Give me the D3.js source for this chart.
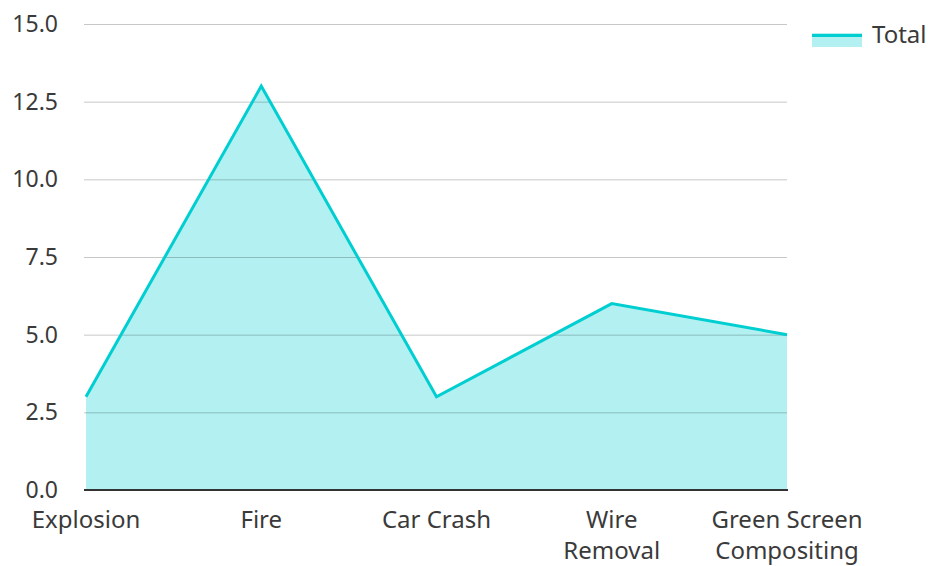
<!DOCTYPE html>
<html>
<head>
<meta charset="utf-8">
<script src="https://cdn.jsdelivr.net/npm/d3@7"></script>
<style>
  body { margin: 0; background: #fff; }
  text { font-family: "Noto Sans", "Open Sans", sans-serif; fill: #3a3a3a; }
</style>
</head>
<body>
<script>
var categories = ["Explosion", "Fire", "Car Crash", "Wire Removal", "Green Screen Compositing"];
var totals = [3, 13, 3, 6, 5];
var yTicks = [0, 2.5, 5, 7.5, 10, 12.5, 15];
var seriesName = "Total";

var margin = {top: 24, right: 141, bottom: 76, left: 86};
var svg = d3.select("body").append("svg")
    .attr("width", 928)
    .attr("height", 566);
var width = svg.attr("width") - margin.left - margin.right,
    height = svg.attr("height") - margin.top - margin.bottom,
    g = svg.append("g").attr("transform", "translate(" + margin.left + "," + margin.top + ")");

var color = "#00ced1";

var x = d3.scalePoint().domain(categories).range([0, width]).padding(0),
    y = d3.scaleLinear().domain([0, 15]).range([height, 0]);

var data = categories.map(function(c, i) { return {cat: c, value: totals[i]}; });

// area + line
var area = d3.area()
    .x(function(d) { return x(d.cat); })
    .y0(height)
    .y1(function(d) { return y(d.value); });
var line = d3.line()
    .x(function(d) { return x(d.cat); })
    .y(function(d) { return y(d.value); });

g.append("path")
    .datum(data)
    .attr("d", area)
    .attr("fill", color)
    .attr("fill-opacity", 0.3);

// grid lines
g.append("g")
    .attr("class", "grid")
    .call(d3.axisLeft(y).tickValues(yTicks).tickSize(-width - 2).tickFormat(""))
    .attr("transform", "translate(-2,0)")
    .call(function(s) {
      s.select(".domain").remove();
      s.selectAll("line").attr("stroke", "#000").attr("stroke-opacity", 0.22);
    });

g.append("path")
    .datum(data)
    .attr("d", line)
    .attr("fill", "none")
    .attr("stroke", color)
    .attr("stroke-width", 3)
    .attr("stroke-linejoin", "miter");

// y axis labels
g.append("g")
    .call(d3.axisLeft(y).tickValues(yTicks).tickSize(0).tickPadding(28).tickFormat(d3.format(".1f")))
    .call(function(s) {
      s.select(".domain").remove();
      s.selectAll("text").style("font-size", "23px").attr("fill", "#3a3a3a");
    });

// x axis baseline
g.append("line")
    .attr("x1", -2).attr("x2", width + 1)
    .attr("y1", height).attr("y2", height)
    .attr("stroke", "#333").attr("stroke-width", 2);

// x labels, wrapped
var xl = g.append("g").selectAll("text")
    .data(categories)
    .enter().append("text")
    .attr("x", function(d) { return x(d); })
    .attr("y", height + 38)
    .attr("text-anchor", "middle")
    .style("font-size", "24px");
xl.each(function(d) {
  var t = d3.select(this);
  var parts = d === "Wire Removal" ? ["Wire", "Removal"]
            : d === "Green Screen Compositing" ? ["Green Screen", "Compositing"] : [d];
  parts.forEach(function(p, i) {
    t.append("tspan").attr("x", x(d)).attr("dy", i === 0 ? 0 : 31).text(p);
  });
});

// legend
var lg = svg.append("g").attr("transform", "translate(812,33)");
lg.append("rect").attr("width", 50).attr("height", 14).attr("fill", color).attr("fill-opacity", 0.3);
lg.append("rect").attr("width", 50).attr("height", 3).attr("y", 1).attr("fill", color);
lg.append("text").attr("x", 60).attr("y", 2).attr("dy", "0.35em").style("font-size", "24px").text(seriesName);
</script>
</body>
</html>
